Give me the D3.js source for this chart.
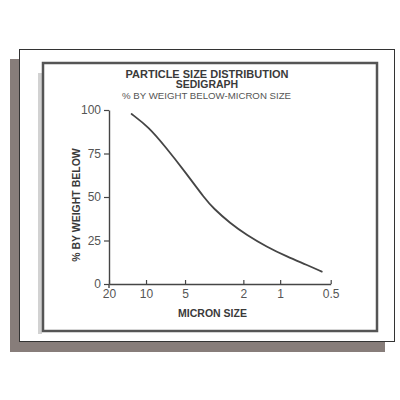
<!DOCTYPE html>
<html><head><meta charset="utf-8">
<script src="https://cdn.jsdelivr.net/npm/d3@7"></script>
<style>body{margin:0;background:#fff}svg{display:block}</style>
</head><body>
<script>
// Data
const micronTicks = [20, 10, 5, 2, 1, 0.5];
const micronTickLabels = ["20", "10", "5", "2", "1", "0.5"];
const tickFractions = [0, 0.167, 0.343, 0.606, 0.772, 1]; // hand-drawn tick spacing along axis
const pctTicks = [0, 25, 50, 75, 100];
const microns = [13.1, 9.6, 7.1, 5.0, 3.65, 3.2, 2.46, 1.88, 1.29, 0.91, 0.69, 0.565];
const pctBelow = [97.7, 90.4, 78.9, 64.5, 48.9, 43.5, 34.9, 28.2, 21.4, 15.7, 10.9, 7.1];
const title1 = "PARTICLE SIZE DISTRIBUTION";
const title2 = "SEDIGRAPH";
const subtitle = "% BY WEIGHT BELOW-MICRON SIZE";
const xTitle = "MICRON SIZE";
const yTitle = "% BY WEIGHT BELOW";

const W = 400, H = 400;
const svg = d3.select("body").append("svg").attr("width", W).attr("height", H);
const ink = "#454545";
const font = "'Liberation Sans', Arial, Helvetica, sans-serif";

// frames
svg.append("rect").attr("x", 10).attr("y", 59).attr("width", 375).attr("height", 293).attr("fill", "#877d7a");
svg.append("rect").attr("x", 19.5).attr("y", 49.5).attr("width", 375).attr("height", 292).attr("fill", "#fff").attr("stroke", "#333").attr("stroke-width", 1);
svg.append("rect").attr("x", 38).attr("y", 73).attr("width", 4).attr("height", 261).attr("fill", "#d2d2d2");
svg.append("rect").attr("x", 43).attr("y", 63).attr("width", 334).attr("height", 268).attr("fill", "#fff").attr("stroke", "#555").attr("stroke-width", 2.5);

const plot = {left: 109, right: 330.7, top: 110, bottom: 284};
const x = d3.scaleLinear()
  .domain(micronTicks.map(Math.log10))
  .range(tickFractions.map(f => plot.left + f * (plot.right - plot.left)));
const y = d3.scaleLinear().domain([0, 100]).range([plot.bottom, plot.top]);

// titles
const tg = svg.append("g").attr("font-family", font).attr("fill", "#3a3a3a").attr("text-anchor", "middle");
tg.append("text").attr("x", 207).attr("y", 77.5).attr("font-size", 10.5).attr("font-weight", "bold").attr("textLength", 163).attr("lengthAdjust", "spacingAndGlyphs").text(title1);
tg.append("text").attr("x", 207).attr("y", 88).attr("font-size", 10.5).attr("font-weight", "bold").text(title2);
tg.append("text").attr("x", 206.5).attr("y", 99).attr("font-size", 8.8).attr("fill", "#555").attr("textLength", 169).attr("lengthAdjust", "spacingAndGlyphs").text(subtitle);

// axes
const yAxis = svg.append("g").attr("transform", `translate(${plot.left},0)`)
  .call(d3.axisLeft(y).tickValues(pctTicks).tickSize(5).tickSizeOuter(0).tickPadding(3));
const xAxis = svg.append("g").attr("transform", `translate(0,${plot.bottom})`)
  .call(d3.axisBottom(x).tickValues(micronTicks.map(Math.log10)).tickSizeInner(-4).tickSizeOuter(0).tickPadding(3)
    .tickFormat((d, i) => micronTickLabels[i]));
[yAxis, xAxis].forEach(g => {
  g.selectAll("path.domain").attr("stroke", ink).attr("stroke-width", 1.4);
  g.selectAll(".tick line").attr("stroke", ink).attr("stroke-width", 1.2);
  g.selectAll(".tick text").attr("fill", "#555").attr("font-family", font).attr("font-size", 12);
});
xAxis.selectAll(".tick text").attr("dy", "0.9em");
svg.append("line").attr("x1", plot.left).attr("x2", plot.left).attr("y1", plot.bottom).attr("y2", plot.bottom + 4).attr("stroke", ink).attr("stroke-width", 1.4);

svg.append("text").attr("x", 212.5).attr("y", 317).attr("text-anchor", "middle").attr("font-family", font)
  .attr("font-size", 10.5).attr("font-weight", "bold").attr("fill", "#3a3a3a").text(xTitle);
svg.append("text").attr("transform", "translate(80,205) rotate(-90)").attr("text-anchor", "middle").attr("font-family", font)
  .attr("font-size", 10.5).attr("font-weight", "bold").attr("fill", "#3a3a3a").text(yTitle);

// curve
const lineGen = d3.line()
  .x(i => x(Math.log10(microns[i])))
  .y(i => y(pctBelow[i]))
  .curve(d3.curveBasis);
svg.append("path").attr("d", lineGen(d3.range(microns.length)))
  .attr("fill", "none").attr("stroke", ink).attr("stroke-width", 1.8).attr("stroke-linecap", "round");
</script>
</body></html>
